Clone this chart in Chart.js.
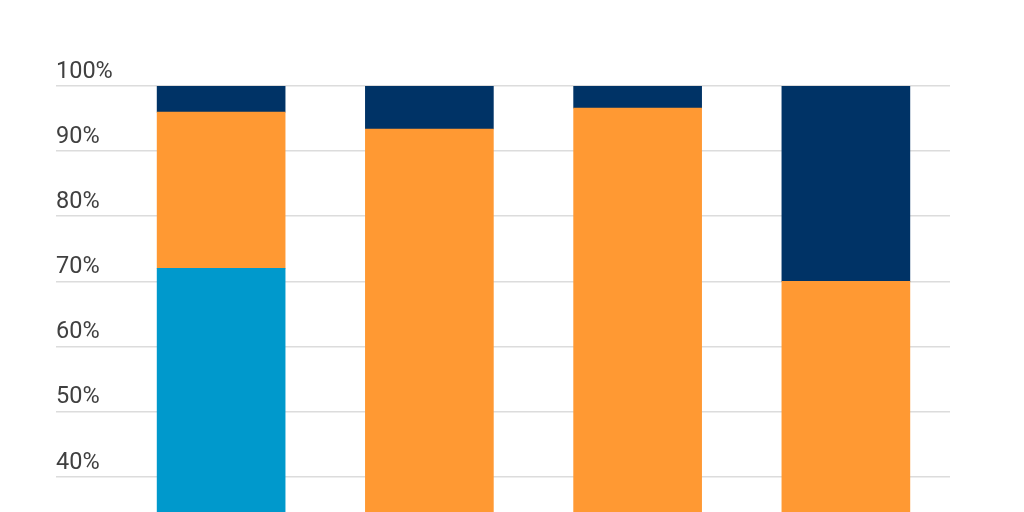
<!DOCTYPE html>
<html>
<head>
<meta charset="utf-8">
<script src="https://cdn.jsdelivr.net/npm/chart.js@4"></script>
<style>
html,body{margin:0;padding:0;background:#fff;overflow:hidden;}
#wrap{width:1024px;height:526px;position:relative;}
</style>
</head>
<body>
<div id="wrap"><canvas id="c"></canvas></div>
<script>
const categories = ['Group 1', 'Group 2', 'Group 3', 'Group 4'];
const seriesNames = ['Series A', 'Series B', 'Series C'];
const seriesA = [72, 0, 0, 0];
const seriesB = [24, 93.4, 96.6, 70];
const seriesC = [4, 6.6, 3.4, 30];
const tickValues = [40, 50, 60, 70, 80, 90, 100];
const colors = ['#0099cc', '#ff9933', '#003366'];

new Chart(document.getElementById('c'), {
  type: 'bar',
  data: {
    labels: categories,
    datasets: [
      { label: seriesNames[0], data: seriesA, backgroundColor: colors[0] },
      { label: seriesNames[1], data: seriesB, backgroundColor: colors[1] },
      { label: seriesNames[2], data: seriesC, backgroundColor: colors[2] }
    ]
  },
  options: {
    responsive: true,
    maintainAspectRatio: false,
    animation: false,
    layout: { padding: { left: 56, right: 74, top: 86, bottom: 0 } },
    plugins: { legend: { display: false }, tooltip: { enabled: false } },
    datasets: { bar: { barThickness: 128, borderWidth: 0 } },
    scales: {
      x: {
        stacked: true,
        display: false
      },
      y: {
        stacked: true,
        min: 34.6,
        max: 100,
        afterBuildTicks: (s) => { s.ticks = tickValues.map(v => ({ value: v })); },
        afterFit: (s) => { s.width = 61; },
        border: { display: false },
        grid: { color: '#dcdcdc', lineWidth: 1.5, tickLength: 61, drawTicks: true },
        ticks: {
          crossAlign: 'far',
          padding: 0,
          labelOffset: -14,
          color: '#404040',
          font: { family: 'Roboto', size: 23.5 },
          callback: (v) => v + '%'
        }
      }
    }
  }
});
</script>
</body>
</html>
